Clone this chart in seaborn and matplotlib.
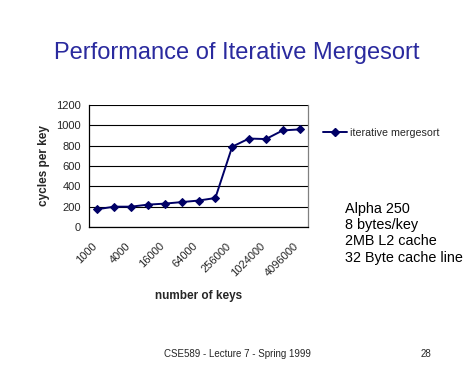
import matplotlib
matplotlib.use("Agg")
import matplotlib.pyplot as plt
import matplotlib.transforms as mtransforms
import seaborn as sns
import pandas as pd
from matplotlib.lines import Line2D

keys = ["1000", "2000", "4000", "8000", "16000", "32000", "64000", "128000",
        "256000", "512000", "1024000", "2048000", "4096000"]
cycles = [175, 200, 200, 220, 230, 245, 260, 285, 790, 870, 865, 950, 960]
series_name = "iterative mergesort"
yticks = [0, 200, 400, 600, 800, 1000, 1200]

df = pd.DataFrame({"keys": keys, "cycles": cycles, "series": series_name})

sns.set_style("white")
plt.rcParams["font.family"] = ["Liberation Sans", "DejaVu Sans"]

fig = plt.figure(figsize=(4.74, 3.79), dpi=100)
ax = fig.add_axes([89/474, 1 - 227/379, (308-89)/474, (227-105)/379])

navy = "#000066"
sns.lineplot(data=df, x="keys", y="cycles", ax=ax, color=navy, marker="D",
             markersize=4.5, markeredgecolor=navy, linewidth=1.4, legend=False, sort=False)

n = len(keys)
ax.set_xlim(-0.5, n - 0.5)
ax.set_ylim(0, 1200)
ax.set_yticks(yticks)
ax.set_yticklabels([str(v) for v in yticks], fontsize=8)
ax.yaxis.grid(True, color="black", linewidth=0.8)
ax.set_axisbelow(True)

ax.set_xticks(range(0, n, 2))
ax.set_xticklabels(keys[::2], rotation=45, ha="right", rotation_mode="anchor", fontsize=8)
ax.set_xticks([i - 0.5 for i in range(n + 1)], minor=True)
ax.tick_params(axis="x", which="major", length=0, pad=10)
ax.tick_params(axis="x", which="minor", length=4, width=0.8, color="black", direction="out")
ax.tick_params(axis="y", length=4, width=0.8, color="black", direction="out", pad=2)
offset = mtransforms.ScaledTranslation(-6/100, 0, fig.dpi_scale_trans)
for lbl in ax.get_xticklabels():
    lbl.set_transform(lbl.get_transform() + offset)

for s in ["left", "bottom"]:
    ax.spines[s].set_color("black")
    ax.spines[s].set_linewidth(0.9)
for s in ["right", "top"]:
    ax.spines[s].set_color("#808080")
    ax.spines[s].set_linewidth(0.9)
ax.spines["top"].set_visible(False)

ax.set_xlabel("number of keys", fontsize=8.5, fontweight="bold", labelpad=8)
ax.set_ylabel("cycles per key", fontsize=8.5, fontweight="bold", labelpad=4)

handle = Line2D([], [], color=navy, marker="D", markersize=4.5, linewidth=1.4)
fig.legend([handle], [series_name], loc="center left",
           bbox_to_anchor=(318/474, 1 - 133/379), frameon=False, fontsize=7.7,
           handlelength=2.2, handletextpad=0.3, borderpad=0)

fig.text(237/474, 1 - 53/379, "Performance of Iterative Mergesort",
         ha="center", va="center", fontsize=17, color="#2a2a9e")
fig.text(345/474, 1 - 202/379, "Alpha 250\n8 bytes/key\n2MB L2 cache\n32 Byte cache line",
         ha="left", va="top", fontsize=10.4, linespacing=1.2, color="black")
fig.text(237/474, 1 - 354/379, "CSE589 - Lecture 7 - Spring 1999",
         ha="center", va="center", fontsize=7)
fig.text(426/474, 1 - 354/379, "28", ha="center", va="center", fontsize=7)

fig.savefig("out.png", dpi=100)
